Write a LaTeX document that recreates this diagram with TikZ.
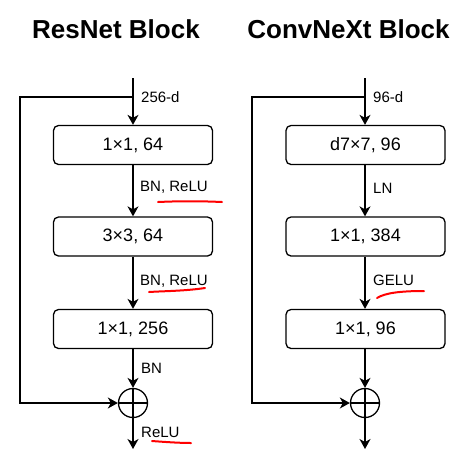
\documentclass[tikz,border=0pt]{standalone}
\usepackage{fontspec}
\setmainfont{Liberation Sans}
\usetikzlibrary{arrows.meta}
\begin{document}
\begin{tikzpicture}[x=1pt,y=-1pt,
  blk/.style={draw, line width=1.3pt, rounded corners=5pt, minimum width=159pt, minimum height=39pt, inner sep=0pt, font=\fontsize{18}{20}\selectfont},
  lbl/.style={anchor=west, inner sep=0pt, font=\fontsize{15}{17}\selectfont},
  ttl/.style={anchor=base, inner sep=0pt, font=\fontsize{26}{30}\selectfont\bfseries},
  wire/.style={line width=1.4pt},
  arr/.style={wire, -{Stealth[length=10pt,width=11pt,inset=3pt]}},
  sumc/.style={draw, circle, line width=1.3pt, minimum size=29pt, inner sep=0pt},
  redline/.style={red, line width=2pt, line cap=round}
]
\useasboundingbox (0,0) rectangle (474,459);

% ---------- ResNet ----------
\node[ttl] (tL) at (116,38) {ResNet Block};
\coordinate (inL) at (133,78);
\coordinate (brL) at (133,97);
\coordinate (c1L) at (20,97);
\coordinate (c2L) at (20,403);
\node[blk] (aL) at (133,145) {1×1, 64};
\node[blk] (bL) at (133,236.5) {3×3, 64};
\node[blk] (cL) at (133,329) {1×1, 256};
\node[sumc] (sL) at (133,403) {};
\coordinate (outL) at (133,449);
\draw[wire] (sL.north) -- (sL.south) (sL.west) -- (sL.east);
\draw[arr] (inL) -- (aL.north);
\draw[arr] (brL) -- (c1L) -- (c2L) -- (sL.west);
\draw[arr] (aL.south) -- (bL.north);
\draw[arr] (bL.south) -- (cL.north);
\draw[arr] (cL.south) -- (sL.north);
\draw[arr] (sL.south) -- (outL);
\node[lbl] (l1L) at (141,97) {256-d};
\node[lbl] (l2L) at (140,187) {BN, ReLU};
\node[lbl] (l3L) at (140,281) {BN, ReLU};
\node[lbl] (l4L) at (141,368) {BN};
\node[lbl] (l5L) at (141,432) {ReLU};
\draw[redline] (158,202) .. controls (180,201) and (200,201) .. (222,202);
\draw[redline] (149,292) .. controls (165,291) and (185,291) .. (205,288);
\draw[redline] (152,441) .. controls (165,442) and (180,443) .. (191,443);

% ---------- ConvNeXt ----------
\node[ttl] (tR) at (348.5,38) {ConvNeXt Block};
\coordinate (inR) at (365,78);
\coordinate (brR) at (365,97);
\coordinate (c1R) at (252,97);
\coordinate (c2R) at (252,403);
\node[blk] (aR) at (365.5,145) {d7×7, 96};
\node[blk] (bR) at (365.5,236.5) {1×1, 384};
\node[blk] (cR) at (365.5,329) {1×1, 96};
\node[sumc] (sR) at (365,403) {};
\coordinate (outR) at (365,449);
\draw[wire] (sR.north) -- (sR.south) (sR.west) -- (sR.east);
\draw[arr] (inR) -- (inR |- aR.north);
\draw[arr] (brR) -- (c1R) -- (c2R) -- (sR.west);
\draw[arr] (inR |- aR.south) -- (inR |- bR.north);
\draw[arr] (inR |- bR.south) -- (inR |- cR.north);
\draw[arr] (inR |- cR.south) -- (sR.north);
\draw[arr] (sR.south) -- (outR);
\node[lbl] (l1R) at (373,97) {96-d};
\node[lbl] (l2R) at (373,188) {LN};
\node[lbl] (l3R) at (373,280) {GELU};
\draw[redline] (377,298) .. controls (385,293) and (400,291) .. (424,291);
\end{tikzpicture}
\end{document}
